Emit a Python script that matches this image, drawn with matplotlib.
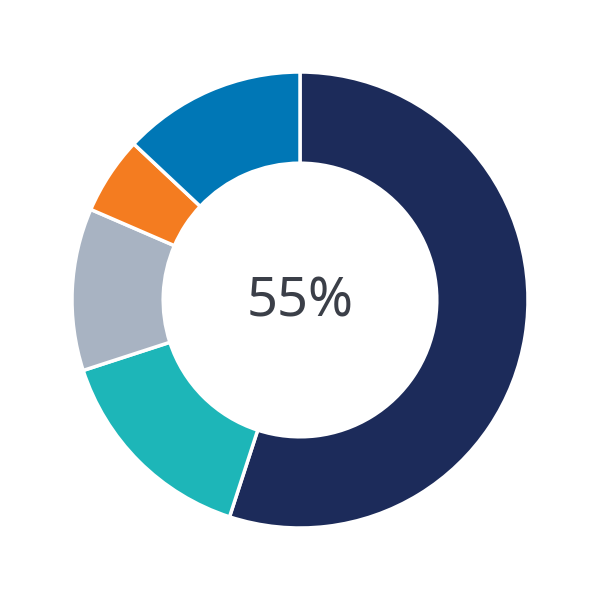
import matplotlib.pyplot as plt

labels = ["A", "B", "C", "D", "E"]
values = [55, 15, 11.5, 5.5, 13]
colors = ["#1c2b5a", "#1db6b8", "#a8b3c2", "#f47c20", "#0077b6"]
center_text = "55%"

fig = plt.figure(figsize=(6, 6), dpi=100)
ax = fig.add_axes([0, 0, 1, 1])

ax.pie(values, colors=colors, startangle=90, counterclock=False,
       radius=1.0,
       wedgeprops=dict(width=0.4, edgecolor="white", linewidth=2.5))

ax.text(0, -0.01, center_text, ha="center", va="center", fontsize=39,
        family=["Noto Sans", "DejaVu Sans"], weight="normal", color="#3b3f48")

lim = 300 / 228
ax.set_xlim(-lim, lim)
ax.set_ylim(-lim, lim)
ax.set_aspect("equal")
ax.axis("off")

fig.savefig("out.png", dpi=100, facecolor="white")
